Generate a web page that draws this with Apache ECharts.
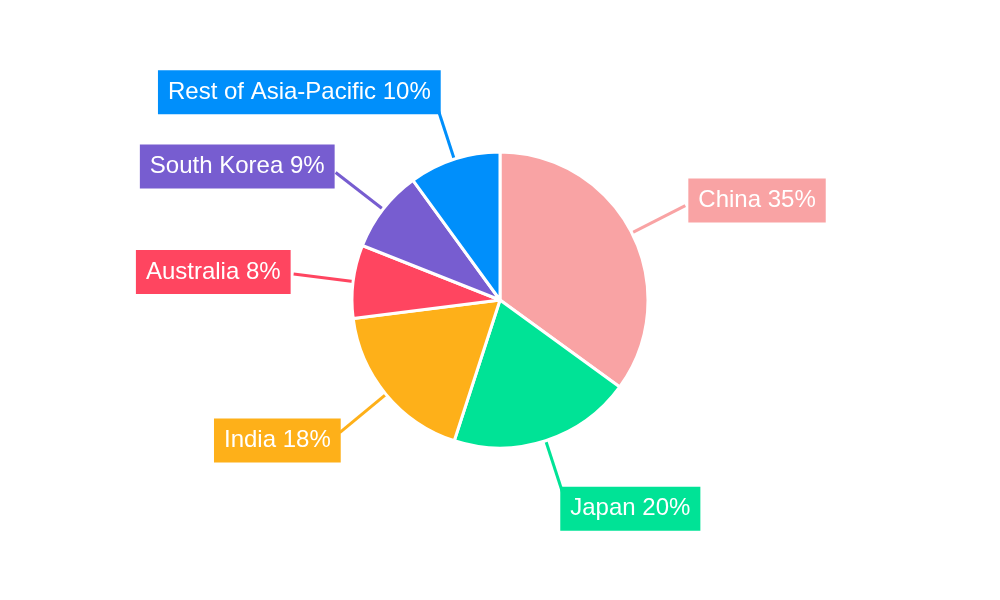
<!DOCTYPE html>
<html lang="en">
<head>
    <meta charset="UTF-8">
    <title>Asia-Pacific share</title>
    <script src="https://cdn.jsdelivr.net/npm/echarts@6/dist/echarts.min.js"></script>
    <style>
        html, body, #main {
            width: 100%;
            height: 100%;
            padding: 0;
            margin: 0;
            background: #fff;
        }
    </style>
</head>
<body>
<div id="main"></div>
<script>
    var regions = ['China', 'Japan', 'India', 'Australia', 'South Korea', 'Rest of Asia-Pacific'];
    var shares = [35, 20, 18, 8, 9, 10];
    var colors = ['#F9A3A4', '#00E396', '#FEB019', '#FF4560', '#775DD0', '#008FFB'];
    // small nudges so the labels sit where they do in the picture
    var labelShift = [[-2, -5], [-9, 11], [6, 8], [2, -2], [4, -6], [10, -10]];

    var pieData = regions.map(function (name, i) {
        return {
            name: name,
            value: shares[i],
            itemStyle: { color: colors[i] },
            label: { backgroundColor: colors[i] },
            labelLine: { lineStyle: { color: colors[i] } }
        };
    });

    var myChart = echarts.init(document.getElementById('main'));
    myChart.setOption({
        animation: false,
        series: [
            {
                type: 'pie',
                center: ['50%', '50%'],
                radius: 148,
                startAngle: 90,
                clockwise: true,
                data: pieData,
                itemStyle: {
                    borderColor: '#fff',
                    borderWidth: 3
                },
                label: {
                    position: 'outside',
                    formatter: '{b} {c}%',
                    color: '#fff',
                    fontFamily: 'Liberation Sans, Arial, sans-serif',
                    fontSize: 24,
                    lineHeight: 24,
                    padding: [10, 10]
                },
                labelLine: {
                    show: true,
                    length: 60,
                    length2: 0,
                    lineStyle: { width: 3 }
                },
                labelLayout: function (params) {
                    var s = labelShift[params.dataIndex];
                    return { dx: s[0], dy: s[1] };
                }
            }
        ]
    });
</script>
</body>
</html>
